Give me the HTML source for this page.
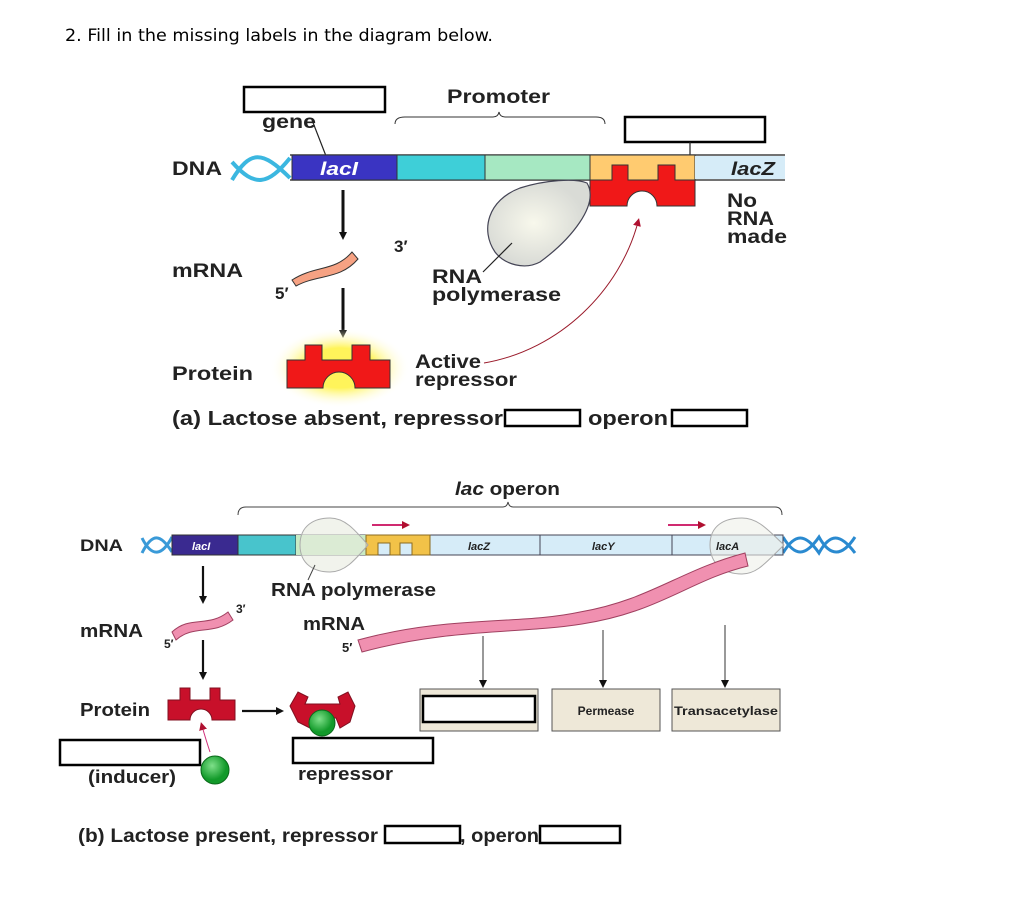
<!DOCTYPE html>
<html><head><meta charset="utf-8"><style>
html,body{margin:0;padding:0;background:#fff;}
svg{display:block;}
text{font-family:"Liberation Sans",sans-serif;}
.b{font-weight:bold;}
</style></head><body>
<svg width="1024" height="910" viewBox="0 0 1024 910" xmlns="http://www.w3.org/2000/svg">
<defs>
<marker id="ah" markerWidth="8" markerHeight="8" refX="4" refY="4" orient="auto" markerUnits="userSpaceOnUse"><path d="M0,0 L8,4 L0,8 Z" fill="#111"/></marker>
<marker id="ar" markerWidth="8" markerHeight="8" refX="4" refY="4" orient="auto" markerUnits="userSpaceOnUse"><path d="M0,0 L8,4 L0,8 Z" fill="#b01030"/></marker>
<radialGradient id="glow"><stop offset="0.5" stop-color="#fff45a"/><stop offset="1" stop-color="#fff" stop-opacity="0"/></radialGradient>
<radialGradient id="pol" cx="0.45" cy="0.5"><stop offset="0" stop-color="#f8f8ec"/><stop offset="1" stop-color="#d9dbd6"/></radialGradient>
<radialGradient id="gb" cx="0.4" cy="0.35"><stop offset="0" stop-color="#7fe08a"/><stop offset="1" stop-color="#129a2a"/></radialGradient>
</defs>

<text x="65" y="41" font-size="17" textLength="428" lengthAdjust="spacingAndGlyphs" style="font-family:'DejaVu Sans','Liberation Sans',sans-serif">2.   Fill in the missing labels in the diagram below.</text>

<!-- ===== (a) ===== -->
<rect x="244" y="87" width="141" height="25" fill="#fff" stroke="#000" stroke-width="2.5"/>
<text x="262" y="128" font-size="19" class="b" fill="#222" textLength="54" lengthAdjust="spacingAndGlyphs">gene</text>
<line x1="312" y1="120" x2="326" y2="156" stroke="#222" stroke-width="1.2"/>
<text x="447" y="103" font-size="19" class="b" fill="#222" textLength="103" lengthAdjust="spacingAndGlyphs">Promoter</text>
<path d="M395,124 Q395,117 405,117 L493,117 Q498,117 499,112 Q500,117 505,117 L596,117 Q605,117 605,124" fill="none" stroke="#333" stroke-width="1"/>
<rect x="625" y="117" width="140" height="25" fill="#fff" stroke="#000" stroke-width="2.5"/>
<line x1="690" y1="142" x2="690" y2="156" stroke="#222" stroke-width="1.2"/>

<text x="172" y="175" font-size="19" class="b" fill="#222" textLength="50" lengthAdjust="spacingAndGlyphs">DNA</text>
<path d="M232,180 C250,150 262,150 290,178 M232,162 C255,188 268,185 290,158" stroke="#3bb7e0" stroke-width="4" fill="none"/>
<line x1="290" y1="155" x2="785" y2="155" stroke="#444" stroke-width="1.5"/>
<line x1="290" y1="180" x2="785" y2="180" stroke="#444" stroke-width="1.5"/>
<rect x="292" y="155" width="105" height="25" fill="#3a34c2" stroke="#333"/>
<text x="320" y="175" font-size="18" class="b" font-style="italic" fill="#fff" textLength="38" lengthAdjust="spacingAndGlyphs">lacI</text>
<rect x="397" y="155" width="88" height="25" fill="#3ecfd8" stroke="#333"/>
<rect x="485" y="155" width="105" height="25" fill="#a6e8c2" stroke="#333"/>
<rect x="590" y="155" width="105" height="25" fill="#ffcb70" stroke="#333"/>
<rect x="695" y="156" width="90" height="23" fill="#d6ecf8"/>
<text x="731" y="175" font-size="18" class="b" font-style="italic" fill="#222" textLength="44" lengthAdjust="spacingAndGlyphs">lacZ</text>
<path d="M590,180 L612,180 L612,165 L628,165 L628,180 L658,180 L658,165 L675,165 L675,180 L695,180 L695,206 L657,206 A15,15 0 0 0 627,206 L590,206 Z" fill="#f01818" stroke="#333"/>
<text x="727" y="207" font-size="19" class="b" fill="#222" textLength="30" lengthAdjust="spacingAndGlyphs">No</text>
<text x="727" y="225" font-size="19" class="b" fill="#222" textLength="47" lengthAdjust="spacingAndGlyphs">RNA</text>
<text x="727" y="243" font-size="19" class="b" fill="#222" textLength="60" lengthAdjust="spacingAndGlyphs">made</text>

<path d="M587,183 C600,205 570,240 540,262 C525,270 505,265 495,252 C480,230 488,200 520,188 C545,180 575,178 587,183 Z" fill="url(#pol)" stroke="#445" stroke-width="1.2"/>
<line x1="512" y1="243" x2="483" y2="272" stroke="#222" stroke-width="1.2"/>
<text x="432" y="283" font-size="19" class="b" fill="#222" textLength="50" lengthAdjust="spacingAndGlyphs">RNA</text>
<text x="432" y="301" font-size="19" class="b" fill="#222" textLength="129" lengthAdjust="spacingAndGlyphs">polymerase</text>

<line x1="343" y1="190" x2="343" y2="236" stroke="#111" stroke-width="3" marker-end="url(#ah)"/>
<text x="172" y="277" font-size="19" class="b" fill="#222" textLength="71" lengthAdjust="spacingAndGlyphs">mRNA</text>
<path d="M292,280 C315,265 335,272 352,252 L358,259 C340,280 318,274 296,286 Z" fill="#f6a283" stroke="#333"/>
<text x="394" y="252" font-size="17" class="b" fill="#222">3′</text>
<text x="275" y="299" font-size="17" class="b" fill="#222">5′</text>
<line x1="343" y1="288" x2="343" y2="334" stroke="#111" stroke-width="3" marker-end="url(#ah)"/>

<ellipse cx="340" cy="368" rx="70" ry="40" fill="url(#glow)"/>
<path d="M287,360 L305,360 L305,345 L322,345 L322,360 L352,360 L352,345 L370,345 L370,360 L390,360 L390,388 L355,388 A16,16 0 0 0 323,388 L287,388 Z" fill="#f01818" stroke="#333"/>
<text x="172" y="380" font-size="19" class="b" fill="#222" textLength="81" lengthAdjust="spacingAndGlyphs">Protein</text>
<text x="415" y="368" font-size="19" class="b" fill="#222" textLength="66" lengthAdjust="spacingAndGlyphs">Active</text>
<text x="415" y="386" font-size="19" class="b" fill="#222" textLength="102" lengthAdjust="spacingAndGlyphs">repressor</text>
<path d="M484,363 C560,350 620,290 638,222" fill="none" stroke="#9a1a2a" stroke-width="1" marker-end="url(#ar)"/>

<text x="172" y="425" font-size="20" class="b" fill="#222" textLength="331" lengthAdjust="spacingAndGlyphs">(a) Lactose absent, repressor</text>
<rect x="505" y="410" width="75" height="16" fill="#fff" stroke="#000" stroke-width="2.5"/>
<text x="588" y="425" font-size="20" class="b" fill="#222" textLength="80" lengthAdjust="spacingAndGlyphs">operon</text>
<rect x="672" y="410" width="75" height="16" fill="#fff" stroke="#000" stroke-width="2.5"/>

<!-- ===== (b) ===== -->
<text x="455" y="495" font-size="18" class="b" fill="#222" textLength="105" lengthAdjust="spacingAndGlyphs"><tspan font-style="italic">lac</tspan> operon</text>
<path d="M238,515 Q238,507 246,507 L503,507 Q507,507 508,502 Q509,507 513,507 L775,507 Q782,507 782,515" fill="none" stroke="#444" stroke-width="1"/>

<text x="80" y="551" font-size="17" class="b" fill="#222" textLength="43" lengthAdjust="spacingAndGlyphs">DNA</text>
<path d="M142,553 C152,533 160,533 172,552 M142,538 C152,558 162,556 172,537" stroke="#3a9ad8" stroke-width="3" fill="none"/>
<path d="M783,553 C795,533 805,533 819,553 C830,533 840,533 855,553 M783,537 C795,557 805,557 819,537 C830,557 842,557 855,537" stroke="#2a8ad0" stroke-width="3" fill="none"/>
<rect x="172" y="535" width="611" height="20" fill="#d6ecf8" stroke="#445"/>
<rect x="172" y="535" width="66" height="20" fill="#3a2a90" stroke="#333"/>
<text x="192" y="550" font-size="11" class="b" font-style="italic" fill="#fff">lacI</text>
<rect x="238" y="535" width="58" height="20" fill="#48c4cc" stroke="#333"/>
<rect x="296" y="535" width="70" height="20" fill="#c9ebc4"/>
<path d="M366,535 L430,535 L430,555 L412,555 L412,543 L400,543 L400,555 L390,555 L390,543 L378,543 L378,555 L366,555 Z" fill="#f2c248" stroke="#8a6a20"/>
<line x1="540" y1="535" x2="540" y2="555" stroke="#445"/>
<line x1="672" y1="535" x2="672" y2="555" stroke="#445"/>
<text x="468" y="550" font-size="11" class="b" font-style="italic" fill="#222">lacZ</text>
<text x="592" y="550" font-size="11" class="b" font-style="italic" fill="#222">lacY</text>

<path d="M300,545 C300,525 315,518 330,518 C345,518 355,530 368,545 C355,560 345,572 330,572 C315,572 300,565 300,545 Z" fill="#e8ebe0" fill-opacity="0.6" stroke="#aaa"/>
<path d="M710,545 C710,525 725,518 742,518 C758,518 768,530 784,545 C768,560 758,574 742,574 C725,574 710,565 710,545 Z" fill="#eef0ea" fill-opacity="0.6" stroke="#aaa"/>
<text x="716" y="550" font-size="11" class="b" font-style="italic" fill="#222">lacA</text>
<line x1="372" y1="525" x2="406" y2="525" stroke="#d02a70" stroke-width="2" marker-end="url(#ar)"/>
<line x1="668" y1="525" x2="702" y2="525" stroke="#d02a70" stroke-width="2" marker-end="url(#ar)"/>
<line x1="315" y1="565" x2="308" y2="580" stroke="#444"/>
<text x="271" y="596" font-size="18" class="b" fill="#222" textLength="165" lengthAdjust="spacingAndGlyphs">RNA polymerase</text>

<path d="M358,640 C450,615 520,625 580,612 C650,600 680,570 745,553 L748,566 C690,580 660,612 582,624 C520,634 450,628 362,652 Z" fill="#f090b0" stroke="#a04060" stroke-width="1"/>
<text x="303" y="630" font-size="18" class="b" fill="#222" textLength="62" lengthAdjust="spacingAndGlyphs">mRNA</text>
<text x="342" y="652" font-size="13" class="b" fill="#222">5′</text>

<line x1="203" y1="566" x2="203" y2="600" stroke="#111" stroke-width="2.2" marker-end="url(#ah)"/>
<text x="80" y="637" font-size="18" class="b" fill="#222" textLength="63" lengthAdjust="spacingAndGlyphs">mRNA</text>
<path d="M172,632 C190,615 208,628 228,612 L233,620 C212,636 194,624 176,640 Z" fill="#f090b0" stroke="#a04060"/>
<text x="236" y="613" font-size="12" class="b" fill="#222">3′</text>
<text x="164" y="648" font-size="12" class="b" fill="#222">5′</text>
<line x1="203" y1="640" x2="203" y2="676" stroke="#111" stroke-width="2.2" marker-end="url(#ah)"/>

<text x="80" y="716" font-size="18" class="b" fill="#222" textLength="70" lengthAdjust="spacingAndGlyphs">Protein</text>
<path d="M168,700 L180,700 L180,688 L190,688 L190,700 L210,700 L210,688 L220,688 L220,700 L235,700 L235,720 L212,720 A11,11 0 0 0 190,720 L168,720 Z" fill="#c8102a" stroke="#801020"/>
<path d="M210,752 Q206,740 202,726" fill="none" stroke="#d0307a" stroke-width="1" marker-end="url(#ar)"/>
<line x1="242" y1="711" x2="280" y2="711" stroke="#111" stroke-width="2.2" marker-end="url(#ah)"/>
<path d="M290,706 L298,692 L308,697 L305,704 L340,704 L338,697 L348,692 L355,706 L350,722 L340,728 L336,718 L314,718 L310,728 L298,722 Z" fill="#c8102a" stroke="#801020"/>
<circle cx="322" cy="723" r="13" fill="url(#gb)" stroke="#0a6a1a"/>
<rect x="293" y="738" width="140" height="25" fill="#fff" stroke="#000" stroke-width="2.5"/>
<text x="298" y="780" font-size="18" class="b" fill="#222" textLength="95" lengthAdjust="spacingAndGlyphs">repressor</text>

<rect x="60" y="740" width="140" height="25" fill="#fff" stroke="#000" stroke-width="2.5"/>
<circle cx="215" cy="770" r="14" fill="url(#gb)" stroke="#0a6a1a"/>
<text x="88" y="783" font-size="18" class="b" fill="#222" textLength="88" lengthAdjust="spacingAndGlyphs">(inducer)</text>

<line x1="483" y1="636" x2="483" y2="684" stroke="#333" stroke-width="1" marker-end="url(#ah)"/>
<line x1="603" y1="630" x2="603" y2="684" stroke="#333" stroke-width="1" marker-end="url(#ah)"/>
<line x1="725" y1="625" x2="725" y2="684" stroke="#333" stroke-width="1" marker-end="url(#ah)"/>
<rect x="420" y="689" width="118" height="42" fill="#eee8d8" stroke="#555"/>
<rect x="423" y="696" width="112" height="26" fill="#fff" stroke="#000" stroke-width="2.5"/>
<rect x="552" y="689" width="108" height="42" fill="#eee8d8" stroke="#555"/>
<text x="606" y="715" font-size="12" class="b" fill="#222" text-anchor="middle">Permease</text>
<rect x="672" y="689" width="108" height="42" fill="#eee8d8" stroke="#555"/>
<text x="674" y="715" font-size="12" class="b" fill="#222" textLength="104" lengthAdjust="spacingAndGlyphs">Transacetylase</text>

<text x="78" y="842" font-size="19" class="b" fill="#222" textLength="300" lengthAdjust="spacingAndGlyphs">(b) Lactose present, repressor</text>
<rect x="385" y="826" width="75" height="17" fill="#fff" stroke="#000" stroke-width="2.5"/>
<text x="460" y="842" font-size="19" class="b" fill="#222" textLength="79" lengthAdjust="spacingAndGlyphs">, operon</text>
<rect x="540" y="826" width="80" height="17" fill="#fff" stroke="#000" stroke-width="2.5"/>
</svg>
</body></html>
